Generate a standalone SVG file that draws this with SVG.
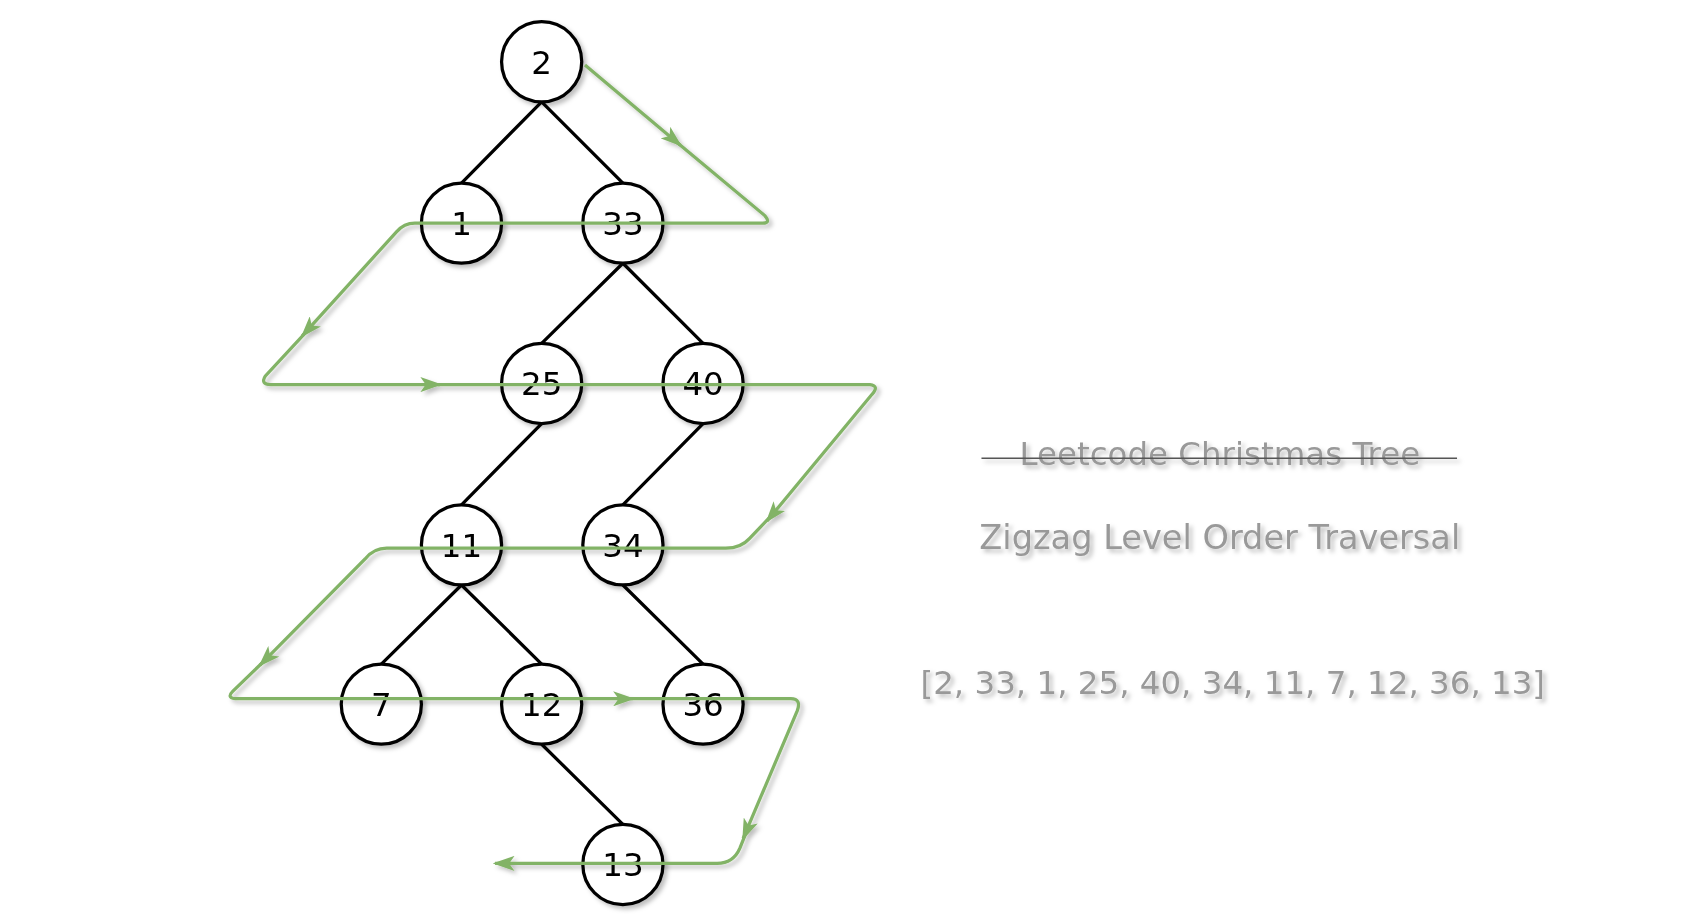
<svg xmlns="http://www.w3.org/2000/svg" width="1690" height="924" viewBox="0 0 1690 924">
<defs>
<marker id="ah" viewBox="0 0 20 14" refX="18" refY="7" markerWidth="20" markerHeight="14" orient="auto" markerUnits="userSpaceOnUse">
<path d="M0,0 L20,7 L0,14 L5,7 Z" fill="#82b366"/>
</marker>
<filter id="sh" x="-10%" y="-10%" width="130%" height="130%"><feDropShadow dx="3" dy="3" stdDeviation="2" flood-color="#000" flood-opacity="0.25"/></filter>
</defs>
<style>
.e{stroke:#000;stroke-width:3;fill:none}
.n circle{fill:#fff;stroke:#000;stroke-width:3}
.n text{font-family:"DejaVu Sans",sans-serif;font-size:30px;text-anchor:middle;fill:#000}
.g{stroke:#82b366;stroke-width:3;fill:none;marker-end:url(#ah)}
.t{font-family:"DejaVu Sans",sans-serif;fill:#999;text-anchor:middle}
</style>
<rect width="1690" height="924" fill="#fff"/>
<g transform="scale(1.0833)">
<g id="edges">
<path class="e" d="M500,94 L426,169 M500,94 L575,169 M575,243 L500,317 M575,243 L649,317 M500,391 L426,466 M649,391 L575,466 M426,540 L352,613 M426,540 L500,613 M575,540 L649,613 M500,687 L575,761"/>
</g>
<g id="n2" class="n" filter="url(#sh)"><circle cx="500" cy="57" r="37"/><text x="500" y="68">2</text></g>
<g id="n1" class="n" filter="url(#sh)"><circle cx="426" cy="206" r="37"/><text x="426" y="217">1</text></g>
<g id="n33" class="n" filter="url(#sh)"><circle cx="575" cy="206" r="37"/><text x="575" y="217">33</text></g>
<g id="n25" class="n" filter="url(#sh)"><circle cx="500" cy="354" r="37"/><text x="500" y="365">25</text></g>
<g id="n40" class="n" filter="url(#sh)"><circle cx="649" cy="354" r="37"/><text x="649" y="365">40</text></g>
<g id="n11" class="n" filter="url(#sh)"><circle cx="426" cy="503" r="37"/><text x="426" y="514">11</text></g>
<g id="n34" class="n" filter="url(#sh)"><circle cx="575" cy="503" r="37"/><text x="575" y="514">34</text></g>
<g id="n7" class="n" filter="url(#sh)"><circle cx="352" cy="650" r="37"/><text x="352" y="661">7</text></g>
<g id="n12" class="n" filter="url(#sh)"><circle cx="500" cy="650" r="37"/><text x="500" y="661">12</text></g>
<g id="n36" class="n" filter="url(#sh)"><circle cx="649" cy="650" r="37"/><text x="649" y="661">36</text></g>
<g id="n13" class="n" filter="url(#sh)"><circle cx="575" cy="798" r="37"/><text x="575" y="809">13</text></g>
<g id="connectors" filter="url(#sh)">
<path class="g" d="M540,60 L628,134"/>
<path class="g" d="M622,129 L706,199 Q712,206 704,206 L383,206 Q373,206 366,214 L279,310"/>
<path class="g" d="M284,305 L245,347 Q240,355 250,355 L406,355"/>
<path class="g" d="M404,355 L803,355 Q812,356 805,364 L708,481"/>
<path class="g" d="M712,476 L692,497 Q684,506 670,506 L357,506 Q345,506 337,516 L240,614"/>
<path class="g" d="M245,609 L215,638 Q208,645 220,645 L584,645"/>
<path class="g" d="M582,645 L730,645 Q740,645 736,656 L686,774"/>
<path class="g" d="M689,768 L683,783 Q677,797 662,797 L457,797"/>
</g>
<g id="texts" filter="url(#sh)">
<text class="t" x="1126" y="429" font-size="30">Leetcode Christmas Tree</text>
<line x1="906" y1="423" x2="1345" y2="423" stroke="#555" stroke-width="1.5"/>
<text class="t" x="1126" y="507" font-size="31">Zigzag Level Order Traversal</text>
<text class="t" x="1138" y="641" font-size="30">[2, 33, 1, 25, 40, 34, 11, 7, 12, 36, 13]</text>
</g>
</g>
</svg>
